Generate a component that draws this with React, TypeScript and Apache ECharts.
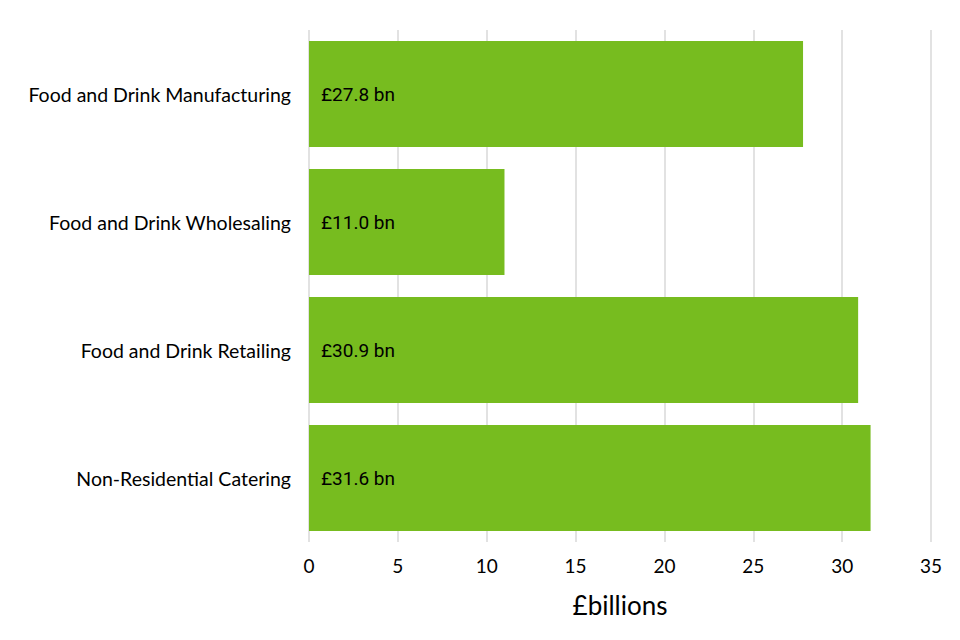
import React, { useEffect, useRef } from "react";
import * as echarts from "echarts";

const categories = [
  "Food and Drink Manufacturing",
  "Food and Drink Wholesaling",
  "Food and Drink Retailing",
  "Non-Residential Catering",
];
const values = [27.8, 11.0, 30.9, 31.6];
const labels = ["£27.8 bn", "£11.0 bn", "£30.9 bn", "£31.6 bn"];
const xTicks = [0, 5, 10, 15, 20, 25, 30, 35];

export default function App() {
  const ref = useRef<HTMLDivElement>(null);
  useEffect(() => {
    document.body.style.margin = "0";
    const chart = echarts.init(ref.current!, null, { renderer: "svg" });
    const font = "Lato, 'Open Sans', sans-serif";
    chart.setOption({
      animation: false,
      backgroundColor: "#ffffff",
      grid: { left: 309, right: 29, top: 30, bottom: 98, containLabel: false },
      xAxis: {
        type: "value",
        min: xTicks[0],
        max: xTicks[xTicks.length - 1],
        interval: 5,
        name: "£billions",
        nameLocation: "middle",
        nameGap: 50,
        nameTextStyle: { fontSize: 26, color: "#000", fontFamily: font },
        axisLine: { show: false },
        axisTick: { show: false },
        axisLabel: { fontSize: 19, color: "#000", margin: 14, fontFamily: font },
        splitLine: { show: true, lineStyle: { color: "#d9d9d9", width: 1.5 } },
      },
      yAxis: {
        type: "category",
        data: categories,
        inverse: true,
        axisLine: { show: false },
        axisTick: { show: false },
        axisLabel: { fontSize: 19.5, color: "#000", margin: 18, fontFamily: font },
      },
      series: [
        {
          type: "bar",
          data: values,
          barCategoryGap: "17%",
          itemStyle: { color: "#77bc1f" },
          label: {
            show: true,
            position: "insideLeft",
            distance: 12,
            fontSize: 19,
            color: "#000",
            fontFamily: "Roboto, 'Noto Sans', sans-serif",
            formatter: (p: any) => labels[p.dataIndex],
          },
        },
      ],
    });
    return () => chart.dispose();
  }, []);
  return <div ref={ref} style={{ width: 960, height: 640 }} />;
}
